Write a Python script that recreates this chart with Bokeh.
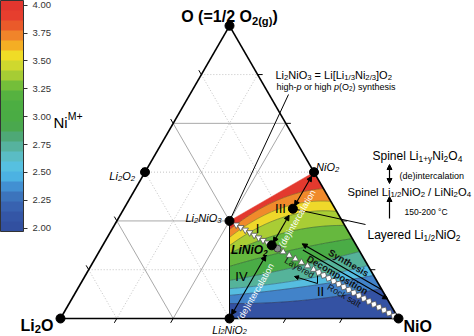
import numpy as np
from bokeh.plotting import figure
from bokeh.models import (Range1d, ColorBar, LinearColorMapper, FixedTicker,
                          PrintfTickFormatter, Arrow, NormalHead)
from bokeh.core.properties import value
from bokeh.embed import file_html
from bokeh.resources import INLINE

# ---------------- data ----------------
# phases: mole fractions of (Li2O, NiO, O)
phase_names = ["Li2O", "NiO", "O", "Li2O2", "Li2NiO2", "Li2NiO3", "NiO2", "LiNiO2", "Li0.5NiO2"]
phase_li2o = [1.0, 0.0, 0.0, 0.5, 0.5, 1 / 3, 0.0, 0.25, 0.125]
phase_nio = [0.0, 1.0, 0.0, 0.0, 0.5, 1 / 3, 0.5, 0.50, 0.500]
phase_o = [0.0, 0.0, 1.0, 0.5, 0.0, 1 / 3, 0.5, 0.25, 0.375]

# Ni oxidation-state colour scale
cbar_ticks = [2.00, 2.25, 2.50, 2.75, 3.00, 3.25, 3.50, 3.75, 4.00]
cbar_low, cbar_high = 1.97, 4.042
cbar_palette = ["#3250a0", "#3456a6", "#3862b0", "#3c74bc", "#4290d2", "#4cb2e2",
                "#56c0e0", "#5abcc4", "#56b29e", "#4ea876", "#4aa84e", "#4aac44",
                "#4cae42", "#56b240", "#74be3a", "#a6cc34", "#cfd82e", "#f0dc26",
                "#f4ae24", "#f0842a", "#ea5a2a", "#e63e2e", "#e2362e"]

# Ni valence contour boundaries in the Li2NiO2-Li2NiO3-NiO2-NiO field
# (O mole fraction where each boundary meets the left edge, a middle cut, the right edge)
contour_levels = [3.80, 3.55, 3.45, 3.25, 3.00, 2.75, 2.60, 2.40, 2.25]
contour_o_left = [0.304, 0.277, 0.249, 0.222, 0.178, 0.130, 0.102, 0.079, 0.051]
contour_o_mid = [0.420, 0.386, 0.352, 0.297, 0.232, 0.171, 0.126, 0.102, 0.058]
contour_o_right = [0.444, 0.400, 0.366, 0.318, 0.273, 0.229, 0.181, 0.147, 0.102]
contour_x_mid = 0.6775

grid_steps = [1 / 6, 2 / 6, 3 / 6, 4 / 6, 5 / 6]

# ---------------- geometry helpers ----------------
S = 338.0            # px per unit side
H = np.sqrt(3) / 2


def cart(b, c):
    return (b + c / 2.0, c * H)


pt = {n: cart(b, c) for n, b, c in zip(phase_names, phase_nio, phase_o)}


def P(px, py):
    return ((px - 60) / S, (318 - py) / S)


def lerp(A, B, t):
    return (A[0] + (B[0] - A[0]) * t, A[1] + (B[1] - A[1]) * t)


p = figure(width=474, height=336, x_range=Range1d(-60 / S, 414 / S),
           y_range=Range1d(-18 / S, 318 / S), output_backend="svg",
           toolbar_location=None, min_border=0,
           x_axis_location=None, y_axis_location=None)
p.grid.visible = False
p.outline_line_color = None
p.background_fill_color = "white"

# ---------------- grid ----------------
sx, sy, dxs, dys = [], [], [], []
tx, ty = [], []
L = 5 / S
for k, f in enumerate(grid_steps, start=1):
    segs = [(cart(0, f), cart(1 - f, f)),
            (cart(0, 1 - f), cart(1 - f, 0)),
            (cart(f, 1 - f), cart(f, 0))]
    for A, B in segs:
        if k % 2 == 0:
            sx.append([A[0], B[0]]); sy.append([A[1], B[1]])
        else:
            dxs.append([A[0], B[0]]); dys.append([A[1], B[1]])
    b0 = cart(f, 0)
    tx.append([b0[0], b0[0] - 0.5 * L]); ty.append([b0[1], b0[1] - H * L])
    l0 = cart(0, f)
    tx.append([l0[0], l0[0] - 0.5 * L]); ty.append([l0[1], l0[1] + H * L])
    r0 = cart(1 - f, f)
    tx.append([r0[0], r0[0] + L]); ty.append([r0[1], r0[1]])
p.multi_line(dxs, dys, line_color="#c4c4c4", line_width=1, line_dash="1 2")
p.multi_line(sx, sy, line_color="#a9a9a9", line_width=1)

# ---------------- coloured field ----------------
def contour_curve(ol, om, orr, n=30):
    XL, YL = 0.5, ol * H
    XR, YR = 1 - orr / 2, orr * H
    coef = np.polyfit([XL, contour_x_mid, XR], [YL, om * H, YR], 2)
    xs = np.linspace(XL, XR, n)
    return list(xs), list(np.polyval(coef, xs))


top = ([pt["Li2NiO3"][0], pt["NiO2"][0]], [pt["Li2NiO3"][1], pt["NiO2"][1]])
bottom = ([pt["Li2NiO2"][0], pt["NiO"][0]], [pt["Li2NiO2"][1], pt["NiO"][1]])
curves = [top] + [contour_curve(a, b, c) for a, b, c in
                  zip(contour_o_left, contour_o_mid, contour_o_right)] + [bottom]
band_colors = ["#e3392e", "#f08a2b", "#efd82a", "#a9cd35", "#66b83e", "#4aac46",
               "#55b39a", "#56bde0", "#4283c9", "#3452a3"]
pxs, pys = [], []
for i in range(len(curves) - 1):
    ux, uy = curves[i]
    lx, ly = curves[i + 1]
    pxs.append(ux + lx[::-1]); pys.append(uy + ly[::-1])
p.patches(pxs, pys, fill_color=band_colors, line_color=band_colors, line_width=0.5)
cx = [c[0] for c in curves[1:-1]]
cy = [c[1] for c in curves[1:-1]]
p.multi_line(cx, cy, line_color="#1a1a1a", line_width=0.6, line_alpha=0.55)

# ---------------- triangle edges ----------------
edge = [("Li2O", "O"), ("O", "NiO"), ("Li2O", "NiO"), ("Li2NiO2", "Li2NiO3")]
p.multi_line([[pt[a][0], pt[b][0]] for a, b in edge], [[pt[a][1], pt[b][1]] for a, b in edge],
             line_color="black", line_width=[1.6, 1.6, 1.6, 1.0])
p.multi_line(tx, ty, line_color="black", line_width=1)

# pointer lines
A1 = P(288, 94)
A2 = P(365, 224)
p.multi_line([[A1[0], pt["Li2NiO3"][0]], [pt["Li0.5NiO2"][0], A2[0]]],
             [[A1[1], pt["Li2NiO3"][1]], [pt["Li0.5NiO2"][1], A2[1]]],
             line_color="black", line_width=1)


def arrow(A, B, both=False, dash="solid", w=1.2, size=5):
    head = lambda: NormalHead(size=size, fill_color="black", line_color="black", line_width=1)
    p.add_layout(Arrow(start=head() if both else None, end=head(),
                       x_start=A[0], y_start=A[1], x_end=B[0], y_end=B[1],
                       line_color="black", line_width=w, line_dash=dash))


# (de)intercalation arrows along Li2NiO2 - NiO2
Q0, Q1 = pt["Li2NiO2"], pt["NiO2"]
for u0, u1 in [(0.025, 0.43), (0.52, 0.705), (0.77, 0.972)]:
    arrow(lerp(Q0, Q1, u0), lerp(Q0, Q1, u1), both=True, w=1.1, size=5)

# synthesis / decomposition arrows along LiNiO2 - NiO
C0, C1 = pt["LiNiO2"], pt["NiO"]
d = np.array(C1) - np.array(C0); d = d / np.linalg.norm(d)
nrm = np.array([-d[1], d[0]])


def off(t, o):
    b = np.array(lerp(C0, C1, t)) + nrm * o / S
    return (b[0], b[1])


arrow(off(0.80, 16.5), off(0.175, 16.5), w=1.1, size=5)
arrow(off(0.20, 11.5), off(0.87, 11.5), w=1.1, size=5)

# Layered bracket and arrow
B1, B2, B3 = P(317, 270), P(317, 283), P(294, 276)
p.line([B1[0], B2[0]], [B1[1], B2[1]], line_color="black", line_width=1)
arrow(B2, B3, w=1, size=4)

# right side reaction arrows
arrow(P(389, 164), P(389, 183), both=True, w=1.2, size=5)
arrow(P(389, 218), P(389, 196), w=1.2, size=5)

# ---------------- chain markers ----------------
D0 = pt["Li2NiO3"]
m1 = [lerp(D0, C0, t) for t in np.linspace(0.16, 0.90, 8)]
p.scatter([a[0] for a in m1], [a[1] for a in m1], marker="triangle", size=6.5,
          angle=np.pi / 3, fill_color="white", line_color="#555555", line_width=0.8)
m2 = [lerp(C0, C1, t) for t in np.linspace(0.09, 0.33, 6)]
p.scatter([a[0] for a in m2], [a[1] for a in m2], marker="triangle", size=6.5,
          angle=-2 * np.pi / 3, fill_color="white", line_color="#555555", line_width=0.8)
m3 = [lerp(C0, C1, t) for t in np.linspace(0.37, 0.965, 16)]
p.scatter([a[0] for a in m3], [a[1] for a in m3], marker="square", size=5,
          angle=np.pi / 12, fill_color="white", line_color="#555555", line_width=0.8)
g = lerp(C0, C1, 0.045)
p.scatter([g[0]], [g[1]], marker="circle", size=7, fill_color="#8a8a8a", line_color="#444444")

# phase dots
p.scatter([pt[n][0] for n in phase_names], [pt[n][1] for n in phase_names],
          marker="circle", size=9, color="black")

# ---------------- text ----------------
REG = {' ': 278, '(': 333, ')': 333, '=': 584, '/': 278, '[': 278, ']': 278, '-': 333,
       '+': 584, '.': 278, '°': 400, 'A': 667, 'C': 722, 'D': 722, 'L': 556, 'M': 833,
       'N': 722, 'O': 778, 'R': 722, 'S': 667, 'I': 278, 'V': 667, 'a': 556, 'c': 500,
       'd': 556, 'e': 556, 'g': 556, 'h': 556, 'i': 222, 'k': 500, 'l': 222, 'n': 556,
       'o': 556, 'p': 556, 'r': 333, 's': 500, 't': 278, 'y': 500, 'm': 833, 'u': 556}
BOLD = {' ': 278, '(': 333, ')': 333, '=': 584, '/': 278, 'L': 611, 'N': 722, 'O': 778,
        'M': 833, '+': 584, 'i': 278, 'g': 611}


def tw(s, size, bold):
    t = BOLD if bold else REG
    return sum(t.get(ch, 556) for ch in s) * size / 1000.0


FONT = "Liberation Sans"


def rich(anchor, segs, size, dx=0, dy=0, bold=False, italic=False, align="left",
         color="black", sub_drop=0.25):
    ws = []
    for s in segs:
        txt, kind = s[0], s[1]
        sz = size * 0.7 if kind in ("b", "p") else size
        ws.append(tw(txt, sz, bold))
    total = sum(ws)
    x0 = anchor[0] * S + dx - {"left": 0, "center": total / 2, "right": total}[align]
    yb = anchor[1] * S - dy
    cur = x0
    for s, w in zip(segs, ws):
        txt, kind = s[0], s[1]
        sz = size * 0.7 if kind in ("b", "p") else size
        yy = yb - (sub_drop * size if kind == "b" else 0) + (0.42 * size if kind == "p" else 0)
        it = italic or kind == "i"
        style = ("bold " if bold else "") + ("italic" if it else "")
        style = style.strip() or "normal"
        lead = len(txt) - len(txt.lstrip(" "))
        xs = cur + tw(" " * lead, sz, bold)
        p.text(x=[xs / S], y=[yy / S], text=[txt.strip(" ")], text_font=value(FONT),
               text_font_size=f"{sz:.1f}px", text_font_style=style, text_color=color,
               text_align="left", text_baseline="alphabetic")
        cur += w


rich(pt["O"], [("O (=1/2 O", "n"), ("2(g)", "b"), (")", "n")], 16, dy=-9, bold=True, align="center")
rich(pt["Li2O"], [("Li", "n"), ("2", "b"), ("O", "n")], 16, dx=-7, dy=7, bold=True, align="right",
     sub_drop=0.2)
rich(pt["NiO"], [("NiO", "n")], 16, dx=5, dy=8, bold=True)
rich(pt["Li2NiO2"], [("Li", "n"), ("2", "b"), ("NiO", "n"), ("2", "b")], 10.5, dy=11, italic=True,
     align="center", sub_drop=0.18)
rich(pt["Li2O2"], [("Li", "n"), ("2", "b"), ("O", "n"), ("2", "b")], 11, dx=-10, dy=4, italic=True, align="right")
rich(pt["Li2NiO3"], [("Li", "n"), ("2", "b"), ("NiO", "n"), ("3", "b")], 11, dx=-8, dy=-3, italic=True, align="right")
rich(pt["NiO2"], [("NiO", "n"), ("2", "b")], 11, dx=2, dy=-5, italic=True)
rich(pt["LiNiO2"], [("LiNiO", "n"), ("2", "b")], 12, dx=-4, dy=5, bold=True, italic=True, align="right")

rich(P(275, 74), [("Li", "n"), ("2", "b"), ("NiO", "n"), ("3", "b"), (" = Li[Li", "n"), ("1/3", "b"),
                  ("Ni", "n"), ("2/3", "b"), ("]O", "n"), ("2", "b")], 11)
rich(P(276, 86), [("high-", "n"), ("p", "i"), (" or high ", "n"), ("p", "i"), ("(O", "n"), ("2", "b"),
                  (") synthesis", "n")], 9)
rich(P(372, 155), [("Spinel Li", "n"), ("1+y", "b"), ("Ni", "n"), ("2", "b"), ("O", "n"), ("4", "b")], 12)
rich(P(399, 175), [("(de)intercalation", "n")], 9)
rich(P(347, 191), [("Spinel Li", "n"), ("1/2", "b"), ("NiO", "n"), ("2", "b"), (" / LiNi", "n"), ("2", "b"),
                   ("O", "n"), ("4", "b")], 11.2)
rich(P(404, 211), [("150-200 °C", "n")], 8.5)
rich(P(367, 234), [("Layered Li", "n"), ("1/2", "b"), ("NiO", "n"), ("2", "b")], 12)
rich(P(53, 122), [("Ni", "n"), ("M+", "p")], 15)

# roman numerals
rn = [("I", 257, 228), ("III", 280, 208), ("IV", 241, 276), ("II", 320, 291)]
p.text(x=[P(a, b)[0] for _, a, b in rn], y=[P(a, b)[1] for _, a, b in rn], text=[r for r, _, _ in rn],
       text_font=value(FONT), text_font_size="13px", text_align="center", text_baseline="middle",
       text_color="black")

# rotated labels
ang = np.arctan2(Q1[1] - Q0[1], Q1[0] - Q0[0])
perp = np.array([np.sin(ang), -np.cos(ang)])
for u, o in [(0.712, 8.7), (0.212, 9.5)]:
    c = np.array(lerp(Q0, Q1, u)) + perp * o / S
    p.text(x=[c[0]], y=[c[1]], text=["(de)intercalation"], angle=ang, text_font=value(FONT),
           text_font_size="9px", text_color="white", text_align="center", text_baseline="middle")

cang = np.arctan2(C1[1] - C0[1], C1[0] - C0[0])
for txt, t, o, fs, st in [("Synthesis", 0.515, 23.4, "9.5px", "bold"),
                          ("Decomposition", 0.49, 7.4, "9.5px", "bold"),
                          ("Layered", 0.24, -5.7, "9px", "normal"),
                          ("Rock salt", 0.60, -7.5, "9px", "normal")]:
    c = off(t, o)
    p.text(x=[c[0]], y=[c[1]], text=[txt], angle=cang, text_font=value(FONT),
           text_font_size=fs, text_font_style=st, text_color="#111111",
           text_align="center", text_baseline="middle")

# ---------------- colour bar ----------------
mapper = LinearColorMapper(palette=cbar_palette, low=cbar_low, high=cbar_high)
cb = ColorBar(color_mapper=mapper, ticker=FixedTicker(ticks=cbar_ticks),
              formatter=PrintfTickFormatter(format="%.2f"), location="top_left",
              orientation="vertical", width=23, height=231, padding=0, margin=0,
              major_tick_out=4, major_tick_in=0, major_tick_line_color="#333333",
              minor_tick_line_color=None, label_standoff=5,
              major_label_text_font_size="9.5px", major_label_text_color="#333333",
              major_label_text_font=FONT, bar_line_color="#333333",
              background_fill_color=None, border_line_color=None)
p.add_layout(cb)

open("out.html", "w").write(file_html(p, INLINE))
